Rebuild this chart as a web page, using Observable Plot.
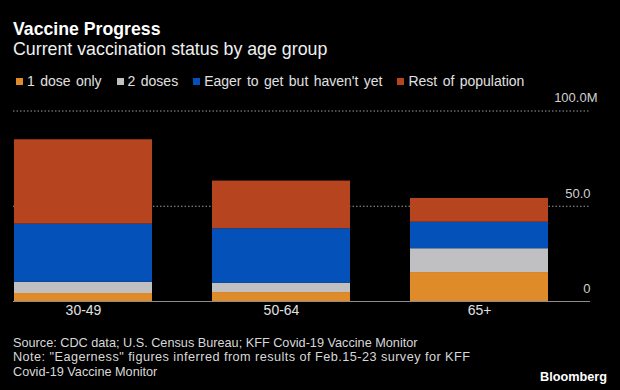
<!DOCTYPE html>
<html><head><meta charset="utf-8">
<script src="https://cdn.jsdelivr.net/npm/d3@7"></script>
<script src="https://cdn.jsdelivr.net/npm/@observablehq/plot@0.6"></script>
<style>
html,body{margin:0;padding:0;background:#000;}
body{width:620px;height:390px;position:relative;overflow:hidden;font-family:"Liberation Sans",Arial,sans-serif;color:#fff;}
.abs{position:absolute;white-space:nowrap;}
#title{left:13px;top:21px;font-size:17.7px;line-height:17.7px;font-weight:700;color:#fff;}
#subtitle{left:13px;top:40.9px;font-size:17.8px;line-height:17.8px;color:#f0f0f0;}
#legend{left:16px;top:74.2px;font-size:14px;line-height:14px;display:flex;gap:15px;color:#e0e0e0;word-spacing:1.5px;}
.item{display:flex;align-items:center;}
.sw{width:7px;height:7px;margin-right:4px;}
#chart{left:0;top:88px;}
#footer{left:13px;top:336.15px;font-size:12.7px;line-height:14.3px;color:#d8d8d8;}
#note{letter-spacing:0.45px;}
#brand{right:13px;top:371px;font-size:12.7px;line-height:12.7px;font-weight:700;color:#fff;}
</style>
</head>
<body>
<div id="title" class="abs">Vaccine Progress</div>
<div id="subtitle" class="abs">Current vaccination status by age group</div>
<div id="legend" class="abs"></div>
<div id="chart" class="abs"></div>
<div id="footer" class="abs">Source: CDC data; U.S. Census Bureau; KFF Covid-19 Vaccine Monitor<br><span id="note">Note: "Eagerness" figures inferred from results of Feb.15-23 survey for KFF</span><br>Covid-19 Vaccine Monitor</div>
<div id="brand" class="abs">Bloomberg</div>
<script>
// Data (millions of people)
const categories = ["30-49", "50-64", "65+"];
const seriesNames = ["1 dose only", "2 doses", "Eager to get but haven't yet", "Rest of population"];
const seriesColors = ["#e08b29", "#c0c0c2", "#0451b9", "#b5441f"];
const oneDose = [4.2, 4.7, 15.2];
const twoDoses = [5.9, 4.9, 12.5];
const eager = [30.5, 28.6, 13.9];
const rest = [44.3, 25.0, 12.5];
const yTicks = [0, 50, 100];
const yTickLabels = ["0", "50.0", "100.0M"];

const seriesValues = [oneDose, twoDoses, eager, rest];
const data = [];
seriesNames.forEach((s, si) => {
  categories.forEach((c, ci) => {
    data.push({group: c, series: s, value: seriesValues[si][ci]});
  });
});

// Legend
const legend = document.getElementById("legend");
seriesNames.forEach((s, i) => {
  const item = document.createElement("div");
  item.className = "item";
  const sw = document.createElement("span");
  sw.className = "sw";
  sw.style.background = seriesColors[i];
  const t = document.createElement("span");
  t.textContent = s;
  item.appendChild(sw);
  item.appendChild(t);
  legend.appendChild(item);
});

const tickData = yTicks.map((v, i) => ({v, label: yTickLabels[i]}));

const chart = Plot.plot({
  width: 620,
  height: 240,
  marginTop: 22.5,
  marginBottom: 27,
  marginLeft: 13,
  marginRight: 30,
  style: {background: "transparent", fontFamily: "'Liberation Sans', Arial, sans-serif", overflow: "visible"},
  x: {domain: categories, range: [13, 548.5], paddingInner: 0.302, paddingOuter: 0, axis: null},
  y: {domain: [0, 100], axis: null},
  color: {domain: seriesNames, range: seriesColors},
  marks: [
    Plot.ruleY(yTicks.filter(d => d !== 0), {stroke: "#9a9a9a", strokeWidth: 1, strokeDasharray: "1.5,2"}),
    Plot.barY(data, {x: "group", y: "value", fill: "series"}),
    Plot.ruleY([0], {stroke: "#8c8c8c", strokeWidth: 1.2}),
    Plot.text(tickData.filter(d => !d.label.endsWith("M")), {y: "v", text: "label", frameAnchor: "right", textAnchor: "end", dy: -12.5, fill: "#d0d0d0", fontSize: 13}),
    Plot.text(tickData.filter(d => d.label.endsWith("M")), {y: "v", text: "label", frameAnchor: "right", textAnchor: "end", dx: 7, dy: -13, fill: "#d0d0d0", fontSize: 13}),
    Plot.text(categories, {x: d => d, frameAnchor: "bottom", dy: 13.5, fill: "#e0e0e0", fontSize: 14})
  ]
});
document.getElementById("chart").appendChild(chart);
</script>
</body></html>
